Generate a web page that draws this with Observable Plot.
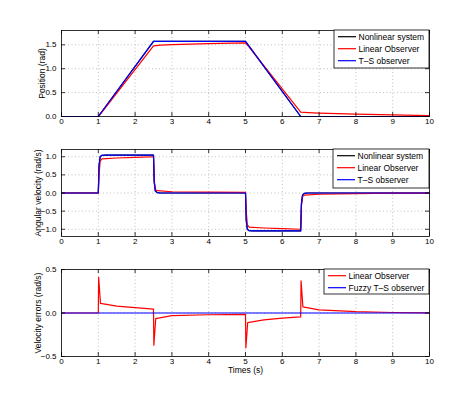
<!DOCTYPE html>
<html><head><meta charset="utf-8">
<script src="https://cdn.jsdelivr.net/npm/d3@7"></script>
<script src="https://cdn.jsdelivr.net/npm/@observablehq/plot@0.6"></script>
<style>
html,body{margin:0;padding:0;background:#fff;}
#chart svg{display:block;}
</style></head><body><div id="chart"></div>
<script>
const xTicks = [0,1,2,3,4,5,6,7,8,9,10];

// Panel 1: position
const posTicks = [0,0.5,1,1.5];
const posTime = [0,1,2.5,5,6.5,10];
const posNonlinear = [0,0,1.571,1.571,0,0];
const posTS = [0,0,1.571,1.571,0,0];
const posLinearTime = [0,1,1.1,2.5,2.7,3,4,5,5.1,6.5,6.7,7,8,9,10];
const posLinear = [0,0,0.09,1.48,1.495,1.505,1.525,1.54,1.45,0.09,0.08,0.07,0.048,0.033,0.02];

// Panel 2: angular velocity
const velTicks = [-1,-0.5,0,0.5,1];
const velTime = [0,1,1.02,1.05,1.1,1.2,2.5,2.52,2.55,2.6,2.7,5,5.02,5.05,5.1,5.2,6.5,6.52,6.55,6.6,6.7,10];
const velNonlinear = [0,0,0.75,1.0,1.04,1.047,1.047,0.3,0.06,0.01,0,0,-0.75,-1.0,-1.04,-1.047,-1.047,-0.3,-0.06,-0.01,0,0];
const velTS = [0,0,0.75,1.0,1.04,1.047,1.047,0.3,0.06,0.01,0,0,-0.75,-1.0,-1.04,-1.047,-1.047,-0.3,-0.06,-0.01,0,0];
const velLinearTime = [0,1,1.02,1.05,1.1,1.5,2,2.5,2.52,2.55,2.6,3,4,5,5.02,5.05,5.1,5.5,6,6.5,6.52,6.55,6.6,7,8,9,10];
const velLinear = [0,0,0.5,0.88,0.94,0.965,0.985,1.0,0.35,0.1,0.065,0.035,0.022,0.015,-0.5,-0.88,-0.94,-0.965,-0.985,-1.0,-0.35,-0.1,-0.06,-0.035,-0.015,-0.006,-0.002];

// Panel 3: velocity errors
const errTicks = [-0.5,0,0.5];
const errLinearTime = [0,1,1.01,1.06,1.5,2,2.5,2.51,2.56,3,4,5,5.01,5.06,5.5,6,6.5,6.51,6.56,7,8,9,10];
const errLinear = [0,0,0.41,0.11,0.08,0.062,0.045,-0.37,-0.065,-0.03,-0.02,-0.015,-0.4,-0.11,-0.08,-0.06,-0.045,0.37,0.07,0.035,0.015,0.006,0.002];
const errTSTime = [0,10];
const errTS = [0,0];

const RED = "#ff0000", BLUE = "#0000ff", BLACK = "#000000";
const FONT = "'Liberation Sans', Arial, Helvetica, sans-serif";

function rows(t, v) { return t.map((x, i) => ({t: x, v: v[i]})); }

function legendMark(leg) {
  return (index, scales, values, dims) => {
    const right = dims.width - dims.marginRight, top = dims.marginTop;
    const x0 = right - leg.width;
    const g = d3.create("svg:g");
    g.append("rect").attr("x", x0).attr("y", top).attr("width", leg.width).attr("height", leg.height)
      .attr("fill", "white").attr("stroke", "#000").attr("stroke-width", 0.8);
    leg.items.forEach((it, i) => {
      const y = top + 6.7 + i * 12;
      g.append("line").attr("x1", x0 + 4).attr("x2", x0 + 22).attr("y1", y).attr("y2", y)
        .attr("stroke", it.color).attr("stroke-width", 1.2);
      g.append("text").attr("x", x0 + 24.5).attr("y", y).attr("dy", "0.35em")
        .attr("text-anchor", "start").attr("font-size", 8.5).attr("fill", "#000").text(it.label);
    });
    return g.node();
  };
}

function panel(o) {
  const W = 474, ml = 61, mr = 45;
  const plotH = o.height - o.marginTop - o.marginBottom;
  const plotW = W - ml - mr;
  const grid = {stroke: "#b0b0b0", strokeOpacity: 1, strokeDasharray: "1,2.5", strokeWidth: 0.8};
  const marks = [
    Plot.gridX(xTicks, grid),
    Plot.gridY(o.yTicks, grid),
    ...o.lines.map(s => Plot.line(rows(s.t, s.v), {x: "t", y: "v", stroke: s.color, strokeWidth: 1.2})),
    Plot.tickX(xTicks, {x: d => d, insetTop: plotH - 4, stroke: "#000", strokeWidth: 0.8}),
    Plot.tickX(xTicks, {x: d => d, insetBottom: plotH - 4, stroke: "#000", strokeWidth: 0.8}),
    Plot.tickY(o.yTicks, {y: d => d, insetRight: plotW - 4, stroke: "#000", strokeWidth: 0.8}),
    Plot.tickY(o.yTicks, {y: d => d, insetLeft: plotW - 4, stroke: "#000", strokeWidth: 0.8}),
    Plot.frame({stroke: "#000", strokeWidth: 0.8}),
    Plot.axisX({ticks: xTicks, tickSize: 0, tickPadding: 2, label: null}),
    Plot.axisY({ticks: o.yTicks, tickSize: 0, tickPadding: 5, label: null}),
    Plot.text([o.yLabel], {frameAnchor: "left", dx: o.yLabelDx, rotate: -90, text: d => d,
      textAnchor: "middle", lineAnchor: "middle", fontSize: 8.5, fill: "#000"}),
    legendMark(o.legend)
  ];
  if (o.xLabel) marks.push(Plot.text([o.xLabel], {frameAnchor: "bottom", dy: 14, text: d => d,
    textAnchor: "middle", lineAnchor: "middle", fontSize: 8.5, fill: "#000"}));
  return Plot.plot({
    width: W, height: o.height,
    marginLeft: ml, marginRight: mr, marginTop: o.marginTop, marginBottom: o.marginBottom,
    style: {fontFamily: FONT, fontSize: "8px", color: "#000", background: "#fff"},
    x: {domain: [0, 10]},
    y: {domain: o.yDomain},
    marks
  });
}

const chart = document.getElementById("chart");
chart.append(panel({
  height: 133, marginTop: 30, marginBottom: 17,
  yDomain: [0, 1.8], yTicks: posTicks, yLabel: "Position (rad)", yLabelDx: -19,
  lines: [
    {t: posTime, v: posNonlinear, color: BLACK},
    {t: posLinearTime, v: posLinear, color: RED},
    {t: posTime, v: posTS, color: BLUE}
  ],
  legend: {width: 95, height: 38, items: [
    {label: "Nonlinear system", color: BLACK},
    {label: "Linear Observer", color: RED},
    {label: "T–S observer", color: BLUE}
  ]}
}));
chart.append(panel({
  height: 120, marginTop: 16, marginBottom: 17,
  yDomain: [-1.2, 1.2], yTicks: velTicks, yLabel: "Angular velocity (rad/s)", yLabelDx: -23,
  lines: [
    {t: velTime, v: velNonlinear, color: BLACK},
    {t: velLinearTime, v: velLinear, color: RED},
    {t: velTime, v: velTS, color: BLUE}
  ],
  legend: {width: 96, height: 39, items: [
    {label: "Nonlinear system", color: BLACK},
    {label: "Linear Observer", color: RED},
    {label: "T–S observer", color: BLUE}
  ]}
}));
chart.append(panel({
  height: 146, marginTop: 16, marginBottom: 43,
  yDomain: [-0.5, 0.5], yTicks: errTicks, yLabel: "Velocity errors (rad/s)", yLabelDx: -23,
  xLabel: "Times (s)",
  lines: [
    {t: errLinearTime, v: errLinear, color: RED},
    {t: errTSTime, v: errTS, color: BLUE}
  ],
  legend: {width: 105, height: 25, items: [
    {label: "Linear Observer", color: RED},
    {label: "Fuzzy T–S observer", color: BLUE}
  ]}
}));
</script></body></html>
